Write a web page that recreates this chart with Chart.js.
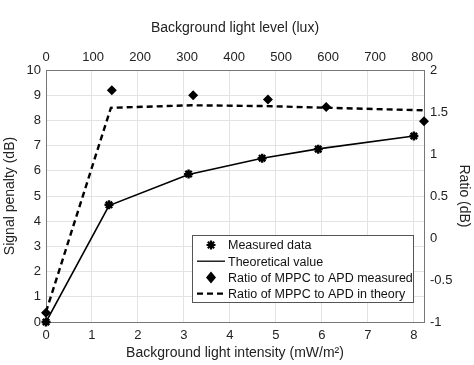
<!DOCTYPE html>
<html>
<head>
<meta charset="utf-8">
<script src="https://cdn.jsdelivr.net/npm/chart.js@4"></script>
<style>
  html, body { margin: 0; padding: 0; background: #fff; }
  #wrap { width: 474px; height: 365px; }
</style>
</head>
<body>
<div id="wrap"><canvas id="chart" width="474" height="365"></canvas></div>
<script>
// Bottom axis: background light intensity (mW/m2), left axis: signal penalty (dB)
const intensity = [0, 1.37, 3.1, 4.7, 5.92, 8.0];
const penaltyMeasured = [0, 4.65, 5.87, 6.5, 6.86, 7.38];
const penaltyTheory = [0, 4.62, 5.85, 6.5, 6.87, 7.38];

// Top axis: background light level (lux), right axis: ratio (dB)
const luxMeasured = [0, 140, 313, 472, 596, 804];
const ratioMeasured = [-0.89, 1.76, 1.70, 1.65, 1.56, 1.39];
const luxTheory = [0, 138, 310, 470, 600, 804];
const ratioTheory = [-0.88, 1.55, 1.58, 1.57, 1.55, 1.52];

const intensityTicks = [0, 1, 2, 3, 4, 5, 6, 7, 8];
const luxTicks = [0, 100, 200, 300, 400, 500, 600, 700, 800];
const penaltyTicks = [0, 1, 2, 3, 4, 5, 6, 7, 8, 9, 10];
const ratioTicks = [-1, -0.5, 0, 0.5, 1, 1.5, 2];

const legendLabels = ['Measured data', 'Theoretical value',
  'Ratio of MPPC to APD measured', 'Ratio of MPPC to APD in theory'];

const pairs = (xs, ys) => xs.map((x, i) => ({ x: x, y: ys[i] }));
const setTicks = list => scale => { scale.ticks = list.map(v => ({ value: v })); };

const FONT = 'Liberation Sans, Arial, sans-serif';
const tickFont = { family: FONT, size: 13 };
const titleFont = { family: FONT, size: 14 };

// legend drawn inside the plot, MATLAB style
const boxLegend = {
  id: 'boxLegend',
  afterDatasetsDraw(chart) {
    const ctx = chart.ctx;
    const x0 = 192, y0 = 235, w = 221, h = 67, row = 16.2;
    ctx.save();
    ctx.fillStyle = '#fff';
    ctx.fillRect(x0, y0, w, h);
    ctx.strokeStyle = '#555';
    ctx.lineWidth = 1;
    ctx.strokeRect(x0 + 0.5, y0 + 0.5, w, h);
    ctx.font = '12.5px ' + FONT;
    ctx.textBaseline = 'middle';
    ctx.fillStyle = '#111';
    legendLabels.forEach((t, i) => {
      const y = y0 + 10 + i * row;
      ctx.fillStyle = '#111';
      ctx.fillText(t, 228, y + 1);
      ctx.strokeStyle = '#000';
      ctx.fillStyle = '#000';
      if (i === 0) {
        ctx.lineWidth = 2.2;
        Chart.helpers.drawPoint(ctx, { pointStyle: 'star', radius: 4.5, borderWidth: 2.2 }, 211, y);
      } else if (i === 1) {
        ctx.lineWidth = 1.3;
        ctx.setLineDash([]);
        ctx.beginPath(); ctx.moveTo(197, y); ctx.lineTo(225, y); ctx.stroke();
      } else if (i === 2) {
        ctx.beginPath();
        ctx.moveTo(211, y - 6); ctx.lineTo(216, y); ctx.lineTo(211, y + 6); ctx.lineTo(206, y);
        ctx.closePath(); ctx.fill();
      } else {
        ctx.lineWidth = 2.4;
        ctx.setLineDash([6, 4]);
        ctx.beginPath(); ctx.moveTo(197, y); ctx.lineTo(225, y); ctx.stroke();
        ctx.setLineDash([]);
      }
    });
    ctx.restore();
  }
};

// plot frame on all four sides
const frame = {
  id: 'frame',
  beforeDatasetsDraw(chart) {
    const a = chart.chartArea, ctx = chart.ctx;
    ctx.save();
    ctx.strokeStyle = '#777';
    ctx.lineWidth = 1;
    ctx.strokeRect(Math.round(a.left) + 0.5, Math.round(a.top) + 0.5,
      Math.round(a.right - a.left), Math.round(a.bottom - a.top));
    ctx.restore();
  }
};

new Chart(document.getElementById('chart'), {
  type: 'scatter',
  data: {
    datasets: [
      {
        label: 'Theoretical value',
        data: pairs(intensity, penaltyTheory),
        showLine: true,
        borderColor: '#000',
        borderWidth: 1.6,
        pointRadius: 0,
        xAxisID: 'x', yAxisID: 'y'
      },
      {
        label: 'Measured data',
        data: pairs(intensity, penaltyMeasured),
        showLine: false,
        pointStyle: 'star',
        pointRadius: 4.5,
        borderColor: '#000',
        backgroundColor: '#000',
        pointBorderWidth: 2.4,
        clip: false,
        xAxisID: 'x', yAxisID: 'y'
      },
      {
        label: 'Ratio of MPPC to APD in theory',
        data: pairs(luxTheory, ratioTheory),
        showLine: true,
        borderColor: '#000',
        borderWidth: 2.4,
        borderDash: [6, 4],
        pointRadius: 0,
        xAxisID: 'x2', yAxisID: 'y2'
      },
      {
        label: 'Ratio of MPPC to APD measured',
        data: pairs(luxMeasured, ratioMeasured),
        showLine: false,
        pointStyle: 'rectRot',
        pointRadius: 5,
        borderColor: '#000',
        backgroundColor: '#000',
        borderWidth: 0,
        clip: false,
        xAxisID: 'x2', yAxisID: 'y2'
      }
    ]
  },
  options: {
    responsive: false,
    animation: false,
    layout: { padding: 0 },
    plugins: {
      legend: { display: false },
      tooltip: { enabled: false }
    },
    scales: {
      x: {
        type: 'linear', position: 'bottom', min: 0, max: 8.22,
        afterBuildTicks: setTicks(intensityTicks),
        afterFit: s => { s.height = 43; },
        grid: { color: '#e3e3e3', drawTicks: false },
        border: { display: false },
        ticks: { font: tickFont, color: '#222', padding: 6, maxRotation: 0 },
        title: { display: true, text: 'Background light intensity (mW/m²)', font: titleFont, color: '#222', padding: { top: 0, bottom: 3 } }
      },
      x2: {
        type: 'linear', position: 'top', min: 0, max: 804,
        afterBuildTicks: setTicks(luxTicks),
        afterFit: s => { s.height = 70; },
        grid: { drawOnChartArea: false, drawTicks: false },
        border: { display: false },
        ticks: { font: tickFont, color: '#222', padding: 5, maxRotation: 0 },
        title: { display: true, text: 'Background light level (lux)', font: titleFont, color: '#222', padding: { top: 20, bottom: 0 } }
      },
      y: {
        type: 'linear', position: 'left', min: 0, max: 10,
        afterBuildTicks: setTicks(penaltyTicks),
        afterFit: s => { s.width = 46; },
        grid: { color: '#e3e3e3', drawTicks: false },
        border: { display: false },
        ticks: { font: tickFont, color: '#222', padding: 5 },
        title: { display: true, text: 'Signal penalty (dB)', font: titleFont, color: '#222', padding: { top: 2, bottom: 0 } }
      },
      y2: {
        type: 'linear', position: 'right', min: -1, max: 2,
        afterBuildTicks: setTicks(ratioTicks),
        afterFit: s => { s.width = 50; },
        grid: { drawOnChartArea: false, drawTicks: false },
        border: { display: false },
        ticks: { font: tickFont, color: '#222', padding: 6, callback: v => String(v) },
        title: { display: true, text: 'Ratio (dB)', font: titleFont, color: '#222', padding: { top: 2, bottom: 0 } }
      }
    }
  },
  plugins: [frame, boxLegend]
});
</script>
</body>
</html>
